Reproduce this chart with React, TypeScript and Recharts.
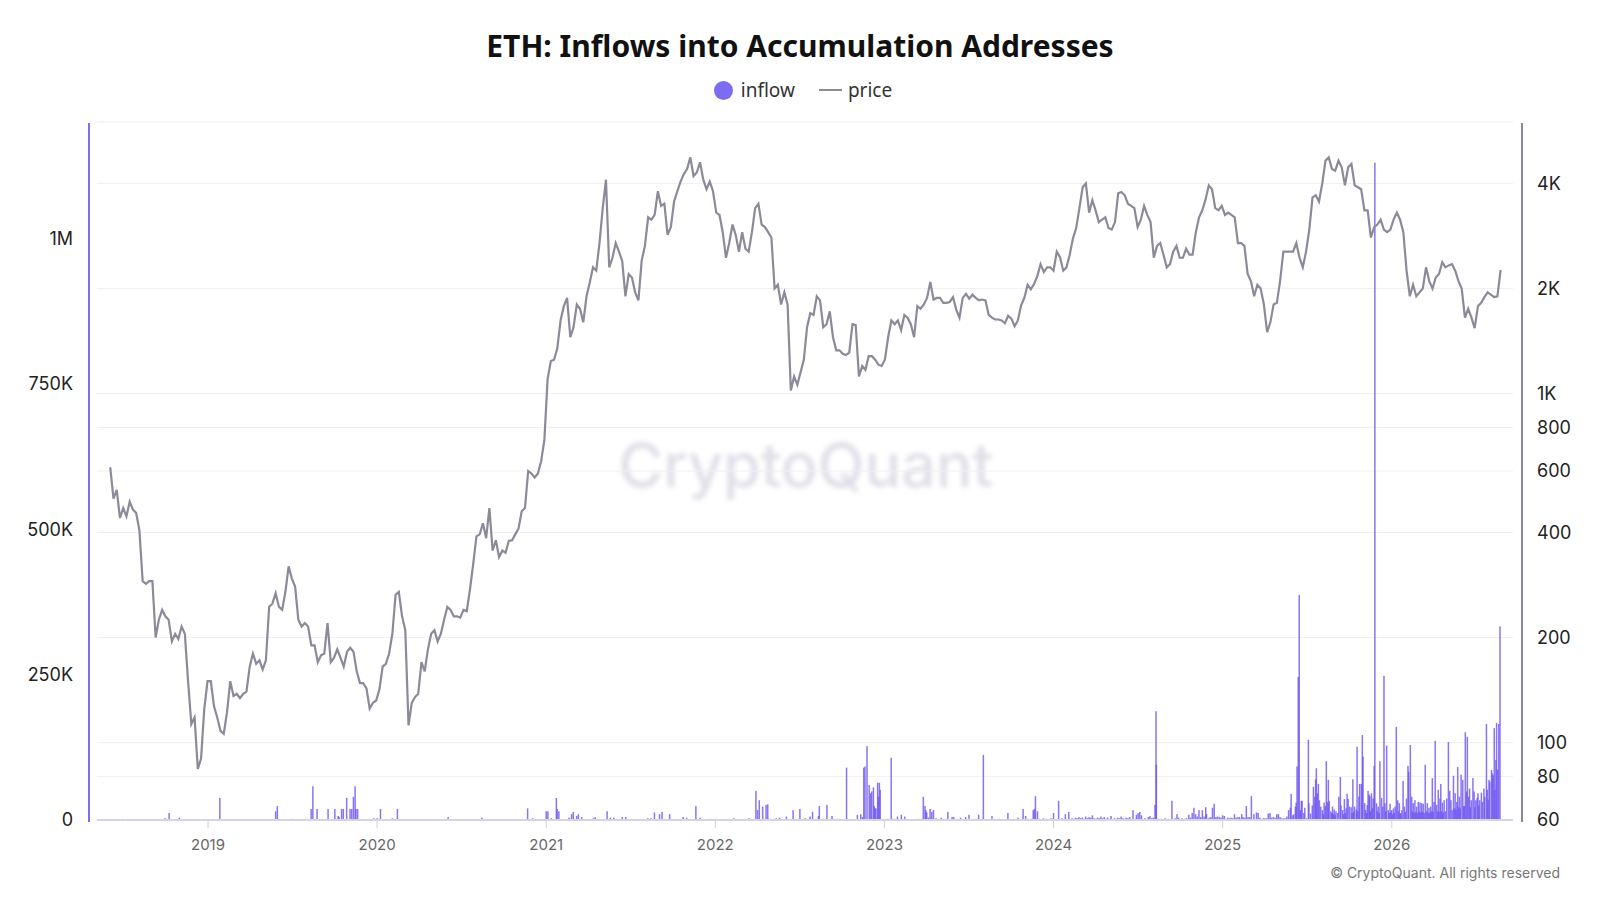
import { Bar, CartesianGrid, ComposedChart, Line, XAxis, YAxis } from "recharts"

// weekly ETH price, each list starts on the date given in priceStarts
const priceStarts = ["2018-06-04", "2019-01-07", "2020-01-06", "2021-01-04", "2022-01-03", "2023-01-02", "2024-01-01", "2024-12-30", "2026-01-05"]

const price2018 = [615, 500, 530, 440, 470, 445, 490, 465, 455, 405, 290, 285, 290, 290, 200, 225, 240, 230, 225, 195, 205, 198, 215, 205, 150, 113, 118, 84, 90, 125, 150]
const price2019 = [150, 127, 118, 108, 106, 122, 150, 136, 138, 134, 138, 140, 165, 180, 168, 172, 162, 172, 245, 250, 268, 245, 240, 270, 320, 295, 280, 225, 215, 220, 215, 190, 190, 170, 178, 180, 220, 170, 175, 185, 175, 165, 182, 187, 182, 160, 148, 148, 143, 125, 130, 132]
const price2020 = [142, 165, 168, 180, 205, 265, 270, 230, 210, 112, 130, 135, 138, 170, 160, 185, 205, 210, 195, 205, 225, 245, 240, 230, 230, 228, 240, 238, 275, 325, 390, 395, 425, 385, 470, 355, 380, 340, 355, 350, 378, 380, 395, 410, 460, 470, 600, 590, 575, 590, 640, 735]
const price2021 = [1100, 1240, 1250, 1350, 1620, 1780, 1880, 1450, 1550, 1800, 1750, 1600, 1900, 2080, 2300, 2250, 2700, 3400, 4100, 2300, 2450, 2700, 2550, 2400, 1900, 2200, 2150, 1950, 1850, 2400, 2650, 3200, 3150, 3250, 3800, 3450, 3500, 2850, 3000, 3550, 3800, 4050, 4250, 4400, 4750, 4200, 4300, 4600, 4100, 3850, 4050, 3800]
const price2022 = [3300, 3250, 2900, 2450, 2700, 3050, 2850, 2550, 2900, 2600, 2550, 2900, 3400, 3500, 3050, 3000, 2900, 2800, 2000, 2050, 1800, 1950, 1800, 1020, 1120, 1060, 1150, 1250, 1550, 1700, 1680, 1900, 1850, 1550, 1580, 1720, 1450, 1330, 1330, 1300, 1290, 1310, 1580, 1570, 1120, 1200, 1170, 1280, 1280, 1250, 1210, 1200]
const price2023 = [1250, 1450, 1620, 1580, 1620, 1520, 1680, 1650, 1580, 1450, 1780, 1750, 1800, 1880, 2090, 1860, 1880, 1880, 1820, 1820, 1830, 1890, 1740, 1650, 1880, 1930, 1870, 1920, 1880, 1850, 1860, 1850, 1680, 1650, 1630, 1630, 1620, 1590, 1670, 1640, 1560, 1620, 1790, 1880, 2050, 1990, 2060, 2170, 2350, 2230, 2300, 2300]
const price2024 = [2250, 2550, 2460, 2250, 2300, 2500, 2780, 2980, 3400, 3900, 4000, 3300, 3580, 3350, 3100, 3150, 3200, 2980, 2950, 3100, 3750, 3780, 3700, 3500, 3450, 3400, 3000, 3150, 3450, 3250, 3100, 2450, 2650, 2700, 2500, 2300, 2350, 2550, 2650, 2450, 2450, 2600, 2500, 2500, 2900, 3200, 3350, 3600, 3950, 3850, 3400, 3350]
const price2025 = [3450, 3250, 3300, 3250, 3200, 2700, 2700, 2650, 2200, 2100, 1900, 2050, 2000, 1800, 1500, 1600, 1800, 1820, 2100, 2550, 2550, 2550, 2550, 2700, 2450, 2300, 2550, 2950, 3650, 3700, 3550, 4000, 4650, 4750, 4400, 4350, 4650, 4450, 3950, 4450, 4550, 3950, 3900, 3850, 3350, 3350, 2800, 3000, 3050, 3150, 2950, 2900, 2950]
const price2026 = [3150, 3300, 3150, 2900, 2250, 1900, 2050, 1900, 1950, 2000, 2300, 2100, 2000, 2150, 2200, 2380, 2300, 2330, 2350, 2250, 2100, 2000, 1650, 1750, 1650, 1540, 1780, 1820, 1890, 1950, 1920, 1890, 1900, 2260]

const priceLists = [price2018, price2019, price2020, price2021, price2022, price2023, price2024, price2025, price2026]

// inflow spikes: [time in years, ETH]
const inflowPoints: [number, number][] = [
  [2018.497, 2000], [2018.746, 3000], [2018.77, 12000], [2018.83, 4000], [2019.07, 38000], [2019.4, 15000], [2019.41, 24000], [2019.5, 2000],
  [2019.61, 19000], [2019.62, 58000], [2019.645, 19000], [2019.71, 19000], [2019.75, 19000], [2019.77, 7000], [2019.775, 5000], [2019.79, 19000],
  [2019.8, 19000], [2019.82, 38000], [2019.84, 19000], [2019.85, 19000], [2019.86, 40000], [2019.87, 58000], [2019.875, 19000], [2019.885, 19000],
  [2019.98, 3000], [2020.0, 3000], [2020.02, 19000], [2020.09, 3000], [2020.12, 19000], [2020.42, 5000], [2020.62, 4000], [2020.89, 20000],
  [2020.92, 3000], [2021.0, 15000], [2021.01, 15000], [2021.03, 3000], [2021.06, 38000], [2021.065, 19000], [2021.075, 15000], [2021.135, 4000],
  [2021.15, 10000], [2021.16, 14000], [2021.18, 7000], [2021.19, 10000], [2021.21, 5000], [2021.28, 3000], [2021.29, 5000], [2021.36, 15000],
  [2021.38, 4000], [2021.4, 4000], [2021.45, 5000], [2021.47, 5000], [2021.6, 3000], [2021.62, 3000], [2021.64, 13000], [2021.67, 10000],
  [2021.685, 14000], [2021.73, 10000], [2021.81, 5000], [2021.83, 4000], [2021.885, 24000], [2021.91, 4000], [2021.97, 2000], [2022.0, 2000],
  [2022.11, 3000], [2022.2, 3000], [2022.24, 50000], [2022.25, 17000], [2022.26, 34000], [2022.28, 23000], [2022.3, 26000], [2022.31, 27000],
  [2022.32, 2000], [2022.36, 3000], [2022.38, 4000], [2022.42, 6000], [2022.46, 17000], [2022.5, 19000], [2022.53, 3000], [2022.56, 6000],
  [2022.575, 14000], [2022.61, 7000], [2022.615, 24000], [2022.64, 2000], [2022.66, 26000], [2022.69, 7000], [2022.7, 2000], [2022.72, 2000],
  [2022.73, 2000], [2022.776, 90000], [2022.78, 2000], [2022.84, 9000], [2022.86, 10000], [2022.87, 5000], [2022.878, 90000], [2022.885, 92000],
  [2022.897, 127000], [2022.91, 60000], [2022.918, 46000], [2022.925, 49000], [2022.935, 56000], [2022.94, 24000], [2022.945, 20000], [2022.95, 20000],
  [2022.96, 64000], [2022.964, 40000], [2022.97, 64000], [2022.975, 52000], [2023.02, 2000], [2023.04, 107000], [2023.05, 2000], [2023.06, 2000],
  [2023.077, 6000], [2023.1, 9000], [2023.12, 6000], [2023.2, 2000], [2023.22, 2000], [2023.23, 40000], [2023.24, 24000], [2023.245, 17000],
  [2023.25, 13000], [2023.26, 4000], [2023.27, 19000], [2023.28, 14000], [2023.29, 17000], [2023.305, 3000], [2023.335, 4000], [2023.375, 14000],
  [2023.4, 5000], [2023.41, 5000], [2023.45, 4000], [2023.48, 5000], [2023.5, 9000], [2023.54, 2000], [2023.557, 9000], [2023.585, 112000],
  [2023.636, 7000], [2023.677, 2000], [2023.73, 12000], [2023.79, 4000], [2023.82, 19000], [2023.835, 7000], [2023.85, 2000], [2023.87, 2000],
  [2023.88, 17000], [2023.887, 19000], [2023.893, 41000], [2023.905, 15000], [2023.914, 2000], [2023.94, 3000], [2023.96, 2000], [2023.985, 3000],
  [2024.0, 12000], [2024.03, 33000], [2024.05, 3000], [2024.07, 10000], [2024.09, 14000], [2024.11, 3000], [2024.12, 2000], [2024.13, 4000],
  [2024.14, 3000], [2024.15, 5000], [2024.16, 3000], [2024.17, 4000], [2024.18, 2000], [2024.19, 6000], [2024.2, 3000], [2024.21, 5000],
  [2024.22, 4000], [2024.23, 8000], [2024.24, 3000], [2024.25, 2000], [2024.26, 4000], [2024.27, 3000], [2024.28, 6000], [2024.29, 3000],
  [2024.3, 5000], [2024.31, 2000], [2024.32, 4000], [2024.34, 7000], [2024.36, 3000], [2024.37, 2000], [2024.38, 4000], [2024.39, 3000],
  [2024.4, 6000], [2024.41, 3000], [2024.42, 2000], [2024.43, 4000], [2024.44, 3000], [2024.45, 5000], [2024.47, 17000], [2024.49, 9000],
  [2024.5, 12000], [2024.51, 14000], [2024.52, 8000], [2024.54, 3000], [2024.56, 5000], [2024.57, 7000], [2024.58, 3000], [2024.59, 4000],
  [2024.6, 26000], [2024.606, 187000], [2024.608, 95000], [2024.62, 2000], [2024.64, 2000], [2024.66, 3000], [2024.68, 2000], [2024.7, 33000],
  [2024.72, 3000], [2024.73, 10000], [2024.74, 4000], [2024.76, 3000], [2024.775, 2000], [2024.785, 3000], [2024.795, 2000], [2024.8, 9000],
  [2024.81, 4000], [2024.82, 12000], [2024.83, 21000], [2024.84, 10000], [2024.85, 6000], [2024.86, 17000], [2024.87, 5000], [2024.88, 17000],
  [2024.89, 6000], [2024.9, 22000], [2024.905, 10000], [2024.92, 4000], [2024.93, 5000], [2024.94, 21000], [2024.95, 28000], [2024.96, 5000],
  [2024.97, 6000], [2024.98, 5000], [2024.99, 4000], [2025.0, 8000], [2025.01, 7000], [2025.03, 4000], [2025.04, 3000], [2025.05, 4000],
  [2025.06, 3000], [2025.07, 10000], [2025.08, 4000], [2025.09, 5000], [2025.1, 5000], [2025.113, 10000], [2025.12, 5000], [2025.13, 4000],
  [2025.14, 24000], [2025.15, 5000], [2025.16, 5000], [2025.17, 41000], [2025.185, 10000], [2025.2, 13000], [2025.21, 12000], [2025.22, 4000],
  [2025.24, 3000], [2025.25, 3000], [2025.26, 3000], [2025.27, 11000], [2025.28, 12000], [2025.29, 4000], [2025.3, 5000], [2025.31, 4000],
  [2025.32, 10000], [2025.33, 10000], [2025.34, 5000], [2025.35, 3000], [2025.36, 3000], [2025.37, 3000], [2025.38, 6000], [2025.39, 17000],
  [2025.4, 21000], [2025.405, 45000], [2025.415, 8000], [2025.42, 10000], [2025.43, 23000], [2025.435, 30000], [2025.44, 92000], [2025.447, 246000],
  [2025.453, 387000], [2025.459, 17000], [2025.465, 33000], [2025.47, 33000], [2025.48, 12000], [2025.486, 21000], [2025.497, 3000], [2025.507, 138000],
  [2025.51, 29000], [2025.52, 11000], [2025.53, 25000], [2025.537, 57000], [2025.545, 40000], [2025.55, 70000], [2025.554, 89000], [2025.56, 46000],
  [2025.566, 62000], [2025.572, 34000], [2025.58, 23000], [2025.59, 17000], [2025.595, 10000], [2025.6, 30000], [2025.607, 24000], [2025.613, 101000],
  [2025.62, 31000], [2025.625, 69000], [2025.63, 33000], [2025.64, 15000], [2025.645, 12000], [2025.65, 23000], [2025.655, 10000], [2025.66, 18000],
  [2025.665, 9000], [2025.67, 15000], [2025.68, 12000], [2025.687, 40000], [2025.696, 74000], [2025.7, 25000], [2025.71, 17000], [2025.715, 10000],
  [2025.72, 36000], [2025.725, 12000], [2025.73, 20000], [2025.736, 45000], [2025.742, 36000], [2025.75, 23000], [2025.76, 22000], [2025.765, 12000],
  [2025.77, 70000], [2025.775, 14000], [2025.78, 23000], [2025.79, 18000], [2025.795, 126000], [2025.8, 15000], [2025.806, 40000], [2025.81, 62000],
  [2025.82, 62000], [2025.826, 146000], [2025.83, 109000], [2025.84, 29000], [2025.845, 17000], [2025.85, 12000], [2025.855, 26000], [2025.86, 50000],
  [2025.866, 44000], [2025.87, 41000], [2025.875, 15000], [2025.88, 46000], [2025.885, 20000], [2025.89, 37000], [2025.896, 93000], [2025.9, 1130000],
  [2025.91, 29000], [2025.915, 15000], [2025.92, 23000], [2025.925, 12000], [2025.93, 101000], [2025.94, 38000], [2025.947, 23000], [2025.954, 248000],
  [2025.96, 29000], [2025.965, 15000], [2025.97, 128000], [2025.98, 17000], [2025.985, 12000], [2025.99, 28000], [2025.995, 14000], [2026.0, 17000],
  [2026.005, 10000], [2026.01, 20000], [2026.015, 12000], [2026.02, 23000], [2026.027, 160000], [2026.035, 34000], [2026.04, 15000], [2026.045, 29000],
  [2026.05, 12000], [2026.055, 10000], [2026.06, 17000], [2026.067, 67000], [2026.075, 23000], [2026.08, 14000], [2026.087, 37000], [2026.096, 93000],
  [2026.1, 83000], [2026.11, 129000], [2026.118, 40000], [2026.122, 15000], [2026.127, 29000], [2026.132, 12000], [2026.137, 34000], [2026.142, 14000],
  [2026.147, 23000], [2026.152, 12000], [2026.157, 31000], [2026.162, 15000], [2026.167, 30000], [2026.172, 13000], [2026.177, 29000], [2026.182, 14000],
  [2026.186, 28000], [2026.192, 12000], [2026.198, 95000], [2026.204, 15000], [2026.21, 29000], [2026.215, 13000], [2026.22, 21000], [2026.225, 12000],
  [2026.23, 23000], [2026.235, 15000], [2026.24, 72000], [2026.245, 14000], [2026.25, 31000], [2026.257, 136000], [2026.265, 26000], [2026.27, 15000],
  [2026.275, 52000], [2026.28, 14000], [2026.285, 37000], [2026.29, 62000], [2026.295, 15000], [2026.3, 30000], [2026.305, 13000], [2026.31, 34000],
  [2026.318, 15000], [2026.325, 37000], [2026.335, 134000], [2026.343, 50000], [2026.35, 34000], [2026.357, 17000], [2026.365, 76000], [2026.37, 20000],
  [2026.375, 46000], [2026.38, 18000], [2026.385, 31000], [2026.39, 91000], [2026.395, 22000], [2026.4, 40000], [2026.405, 20000], [2026.41, 78000],
  [2026.42, 69000], [2026.425, 24000], [2026.43, 24000], [2026.435, 151000], [2026.443, 49000], [2026.447, 143000], [2026.455, 40000], [2026.46, 54000],
  [2026.465, 22000], [2026.47, 34000], [2026.48, 72000], [2026.487, 49000], [2026.492, 22000], [2026.497, 34000], [2026.505, 38000], [2026.51, 46000],
  [2026.515, 25000], [2026.52, 34000], [2026.53, 47000], [2026.537, 31000], [2026.545, 54000], [2026.55, 40000], [2026.56, 165000], [2026.565, 52000],
  [2026.57, 35000], [2026.575, 69000], [2026.58, 66000], [2026.59, 86000], [2026.595, 80000], [2026.6, 77000], [2026.606, 158000], [2026.61, 52000],
  [2026.616, 103000], [2026.62, 167000], [2026.627, 87000], [2026.633, 165000], [2026.64, 333000],
]

const yearTicks = [2019, 2020, 2021, 2022, 2023, 2024, 2025, 2026]
const inflowTicks = [0, 250000, 500000, 750000, 1000000]
const priceTicks = [60, 80, 100, 200, 400, 600, 800, 1000, 2000, 4000]

const DAY = 86400000

function toYear(ms: number) {
  const y = new Date(ms).getUTCFullYear()
  const a = Date.UTC(y, 0, 1)
  const b = Date.UTC(y + 1, 0, 1)
  return y + (ms - a) / (b - a)
}

type Row = { t: number; price?: number; inflow?: number }

const rows: Row[] = []
priceLists.forEach((list, i) => {
  const start = Date.parse(priceStarts[i] + "T00:00:00Z")
  list.forEach((p, k) => rows.push({ t: toYear(start + k * 7 * DAY), price: p }))
})
inflowPoints.forEach(([t, v]) => rows.push({ t, inflow: v }))
rows.sort((a, b) => a.t - b.t)

const fmtInflow = (v: number) => (v === 0 ? "0" : v >= 1000000 ? `${v / 1000000}M` : `${v / 1000}K`)
const fmtPrice = (v: number) => (v >= 1000 ? `${v / 1000}K` : `${v}`)

const BAR = "#6b52f0"
const LINE = "#8b8a99"
const tickFont = { fontFamily: "Inter, sans-serif", fontSize: 18, fill: "#222" }

// recharts squeezes bars on a dense number axis, so draw each one as a fixed 1.5px stroke
function ThinBar(props: any) {
  const { x, y, width, height } = props
  if (!height || height <= 0) return null
  return <rect x={x + width / 2 - 0.75} y={y} width={1.5} height={height} fill={BAR} fillOpacity={0.8} />
}

export default function App() {
  return (
    <div style={{ position: "absolute", left: 0, top: 0, width: 1600, height: 900, background: "#fff", overflow: "hidden", fontFamily: "'Noto Sans', sans-serif" }}>
      <div style={{ position: "absolute", top: 25, width: 1600, textAlign: "center", fontSize: 30, fontWeight: 700, color: "#111" }}>
        ETH: Inflows into Accumulation Addresses
      </div>
      <div style={{ position: "absolute", top: 77, left: 3, width: 1600, display: "flex", justifyContent: "center", alignItems: "center", fontSize: 19, color: "#333" }}>
        <span style={{ width: 19, height: 19, borderRadius: "50%", background: "#7c6cf0", marginRight: 8 }} />
        <span>inflow</span>
        <span style={{ width: 23, height: 2, background: LINE, marginLeft: 24, marginRight: 6 }} />
        <span>price</span>
      </div>
      <div style={{ position: "absolute", top: 428, width: 1600, paddingLeft: 12, boxSizing: "border-box", textAlign: "center", fontFamily: "Inter, sans-serif", fontSize: 61, fontWeight: 500, color: "#e0dfe8", filter: "blur(2.5px)" }}>
        CryptoQuant
      </div>
      <ComposedChart width={1600} height={900} data={rows} margin={{ top: 122, right: 7, bottom: 40, left: 17 }}>
        <CartesianGrid vertical={false} yAxisId="right" stroke="#f0f0f2" />
        <XAxis
          dataKey="t"
          type="number"
          domain={[2018.3436, 2026.717]}
          allowDataOverflow
          ticks={yearTicks}
          tickFormatter={(v) => String(v)}
          height={40}
          axisLine={{ stroke: "#d6d4e4", strokeWidth: 2 }}
          tickLine={{ stroke: "#d0d0d0" }}
          tickSize={8}
          tickMargin={11}
          tick={{ fontFamily: "Inter, sans-serif", fontSize: 15, fill: "#666" }}
        />
        <YAxis
          yAxisId="left"
          orientation="left"
          width={80}
          domain={[0, 1200000]}
          ticks={inflowTicks}
          tickFormatter={fmtInflow}
          axisLine={false}
          tickLine={false}
          tickSize={6}
          tickMargin={18}
          tick={tickFont}
        />
        <YAxis
          yAxisId="right"
          orientation="right"
          width={80}
          scale="log"
          domain={[60, 6000]}
          allowDataOverflow
          ticks={priceTicks}
          tickFormatter={fmtPrice}
          axisLine={false}
          tickLine={false}
          tickSize={6}
          tickMargin={18}
          tick={tickFont}
        />
        <Bar yAxisId="left" dataKey="inflow" fill={BAR} shape={ThinBar} isAnimationActive={false} />
        <Line yAxisId="right" dataKey="price" type="linear" stroke={LINE} strokeWidth={2.2} dot={false} connectNulls isAnimationActive={false} />
      </ComposedChart>
      <div style={{ position: "absolute", left: 88, top: 123, width: 2, height: 699, background: "#7b6ef0" }} />
      <div style={{ position: "absolute", left: 1521, top: 123, width: 2, height: 699, background: "#8a8898" }} />
      <div style={{ position: "absolute", right: 40, top: 864, fontFamily: "Inter, sans-serif", fontSize: 14, color: "#777" }}>
        © CryptoQuant. All rights reserved
      </div>
    </div>
  )
}
